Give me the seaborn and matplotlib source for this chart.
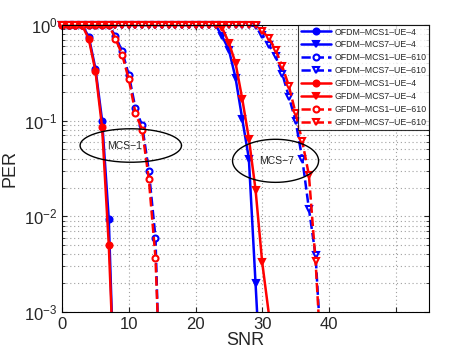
import numpy as np
import pandas as pd
import matplotlib
matplotlib.use("Agg")
import matplotlib.pyplot as plt
from matplotlib.lines import Line2D
import seaborn as sns

# --- PER vs SNR, OFDM vs GFDM ---

ofdm_mcs1_ue4 = [1, 1, 1, 1, 0.75, 0.35, 0.10, 0.0093, 6e-5]
ofdm_mcs7_ue4 = [1] * 24 + [0.76, 0.55, 0.28, 0.105, 0.04, 0.002, 1e-4]
ofdm_mcs1_ue610 = [1] * 8 + [0.76, 0.53, 0.30, 0.134, 0.089, 0.030, 0.006, 2e-5]
ofdm_mcs7_ue610 = [1] * 29 + [0.97, 0.79, 0.62, 0.47, 0.31, 0.177, 0.10,
                              0.04, 0.012, 0.0039, 2.5e-4]
gfdm_mcs1_ue4 = [1, 1, 1, 1, 0.71, 0.33, 0.085, 0.005, 9e-5]
gfdm_mcs7_ue4 = [1] * 24 + [0.93, 0.65, 0.40, 0.17, 0.065, 0.019, 0.0033, 0.00095]
gfdm_mcs1_ue610 = [1] * 8 + [0.72, 0.49, 0.27, 0.12, 0.08, 0.0245, 0.0037, 5e-5]
gfdm_mcs7_ue610 = [1] * 29 + [1.0, 0.86, 0.73, 0.55, 0.37, 0.23, 0.12,
                              0.061, 0.027, 0.0034, 2e-4]

series = [
    ("OFDM\u2013MCS1\u2013UE\u20134", ofdm_mcs1_ue4, "blue", "-", "o"),
    ("OFDM\u2013MCS7\u2013UE\u20134", ofdm_mcs7_ue4, "blue", "-", "v"),
    ("OFDM\u2013MCS1\u2013UE\u2013610", ofdm_mcs1_ue610, "blue", "--", "o"),
    ("OFDM\u2013MCS7\u2013UE\u2013610", ofdm_mcs7_ue610, "blue", "--", "v"),
    ("GFDM\u2013MCS1\u2013UE\u20134", gfdm_mcs1_ue4, "red", "-", "o"),
    ("GFDM\u2013MCS7\u2013UE\u20134", gfdm_mcs7_ue4, "red", "-", "v"),
    ("GFDM\u2013MCS1\u2013UE\u2013610", gfdm_mcs1_ue610, "red", "--", "o"),
    ("GFDM\u2013MCS7\u2013UE\u2013610", gfdm_mcs7_ue610, "red", "--", "v"),
]

x_ticks = [0, 10, 20, 30, 40, 50]
x_tick_labels = ["0", "10", "20", "30", "40", ""]

# annotation ellipses: label, centre snr, log10 centre per, half width (dB),
# half height (decades), text snr, text log10 per
ellipses = [
    ("MCS\u22121", 10.3, -1.26, 7.6, 0.175, 9.4, -1.27),
    ("MCS\u22127", 32.0, -1.42, 6.45, 0.225, 32.2, -1.42),
]

sns.set_style("ticks")
plt.rcParams["font.family"] = ["Liberation Sans", "DejaVu Sans"]

fig = plt.figure(figsize=(4.74, 3.51), dpi=100)
ax = fig.add_axes([0.131, 0.111, 0.774, 0.818])

handles = []
for name, vals, col, ls, mk in series:
    df = pd.DataFrame({"SNR": np.arange(len(vals)), "PER": vals})
    mfc = "white" if ls == "--" else col
    ms = 5 if mk == "v" else 4.3
    sns.lineplot(data=df, x="SNR", y="PER", ax=ax, color=col, linestyle=ls,
                 lw=1.8, estimator=None, errorbar=None, sort=False)
    inside = df[(df["PER"] >= 1e-3) & (df["PER"] <= 1)]
    sns.lineplot(data=inside, x="SNR", y="PER", ax=ax, color=col,
                 linestyle="none", marker=mk, markersize=ms, mfc=mfc,
                 mec=col, mew=1.5, estimator=None, errorbar=None,
                 sort=False, clip_on=False)
    handles.append(Line2D([], [], color=col, linestyle=ls, lw=1.8, marker=mk,
                          markersize=ms, mfc=mfc, mec=col, mew=1.5,
                          label=name))

for label, cx, cy, a, b, tx, ty in ellipses:
    t = np.linspace(0, 2 * np.pi, 200)
    ax.plot(cx + a * np.cos(t), 10 ** (cy + b * np.sin(t)), color="black", lw=1)
    ax.text(tx, 10 ** ty, label, fontsize=7.5, ha="center", va="center")

ax.set_yscale("log")
ax.set_xlim(0, 55)
ax.set_ylim(1e-3, 1)
ax.set_xticks(x_ticks)
ax.set_xticklabels(x_tick_labels)
ax.grid(True, which="major", axis="both", linestyle=(0, (1, 2.5)),
        color="#a0a0a0", lw=0.8)
ax.grid(True, which="minor", axis="y", linestyle=(0, (1, 2.5)),
        color="#a0a0a0", lw=0.8)
ax.tick_params(direction="in", top=True, right=True, which="both", labelsize=12)
for sp in ax.spines.values():
    sp.set_linewidth(0.8)
    sp.set_color("black")
ax.set_xlabel("SNR", fontsize=13, labelpad=0)
ax.set_ylabel("PER", fontsize=13, labelpad=4)

leg = ax.legend(handles=handles, loc="upper right", fontsize=6.3,
                handlelength=3.4, borderaxespad=0.0, frameon=True,
                fancybox=False, edgecolor="black", labelspacing=0.45,
                handletextpad=0.4, borderpad=0.3)
leg.get_frame().set_linewidth(0.8)
leg.set_zorder(5)

fig.savefig("out.png", dpi=100)
